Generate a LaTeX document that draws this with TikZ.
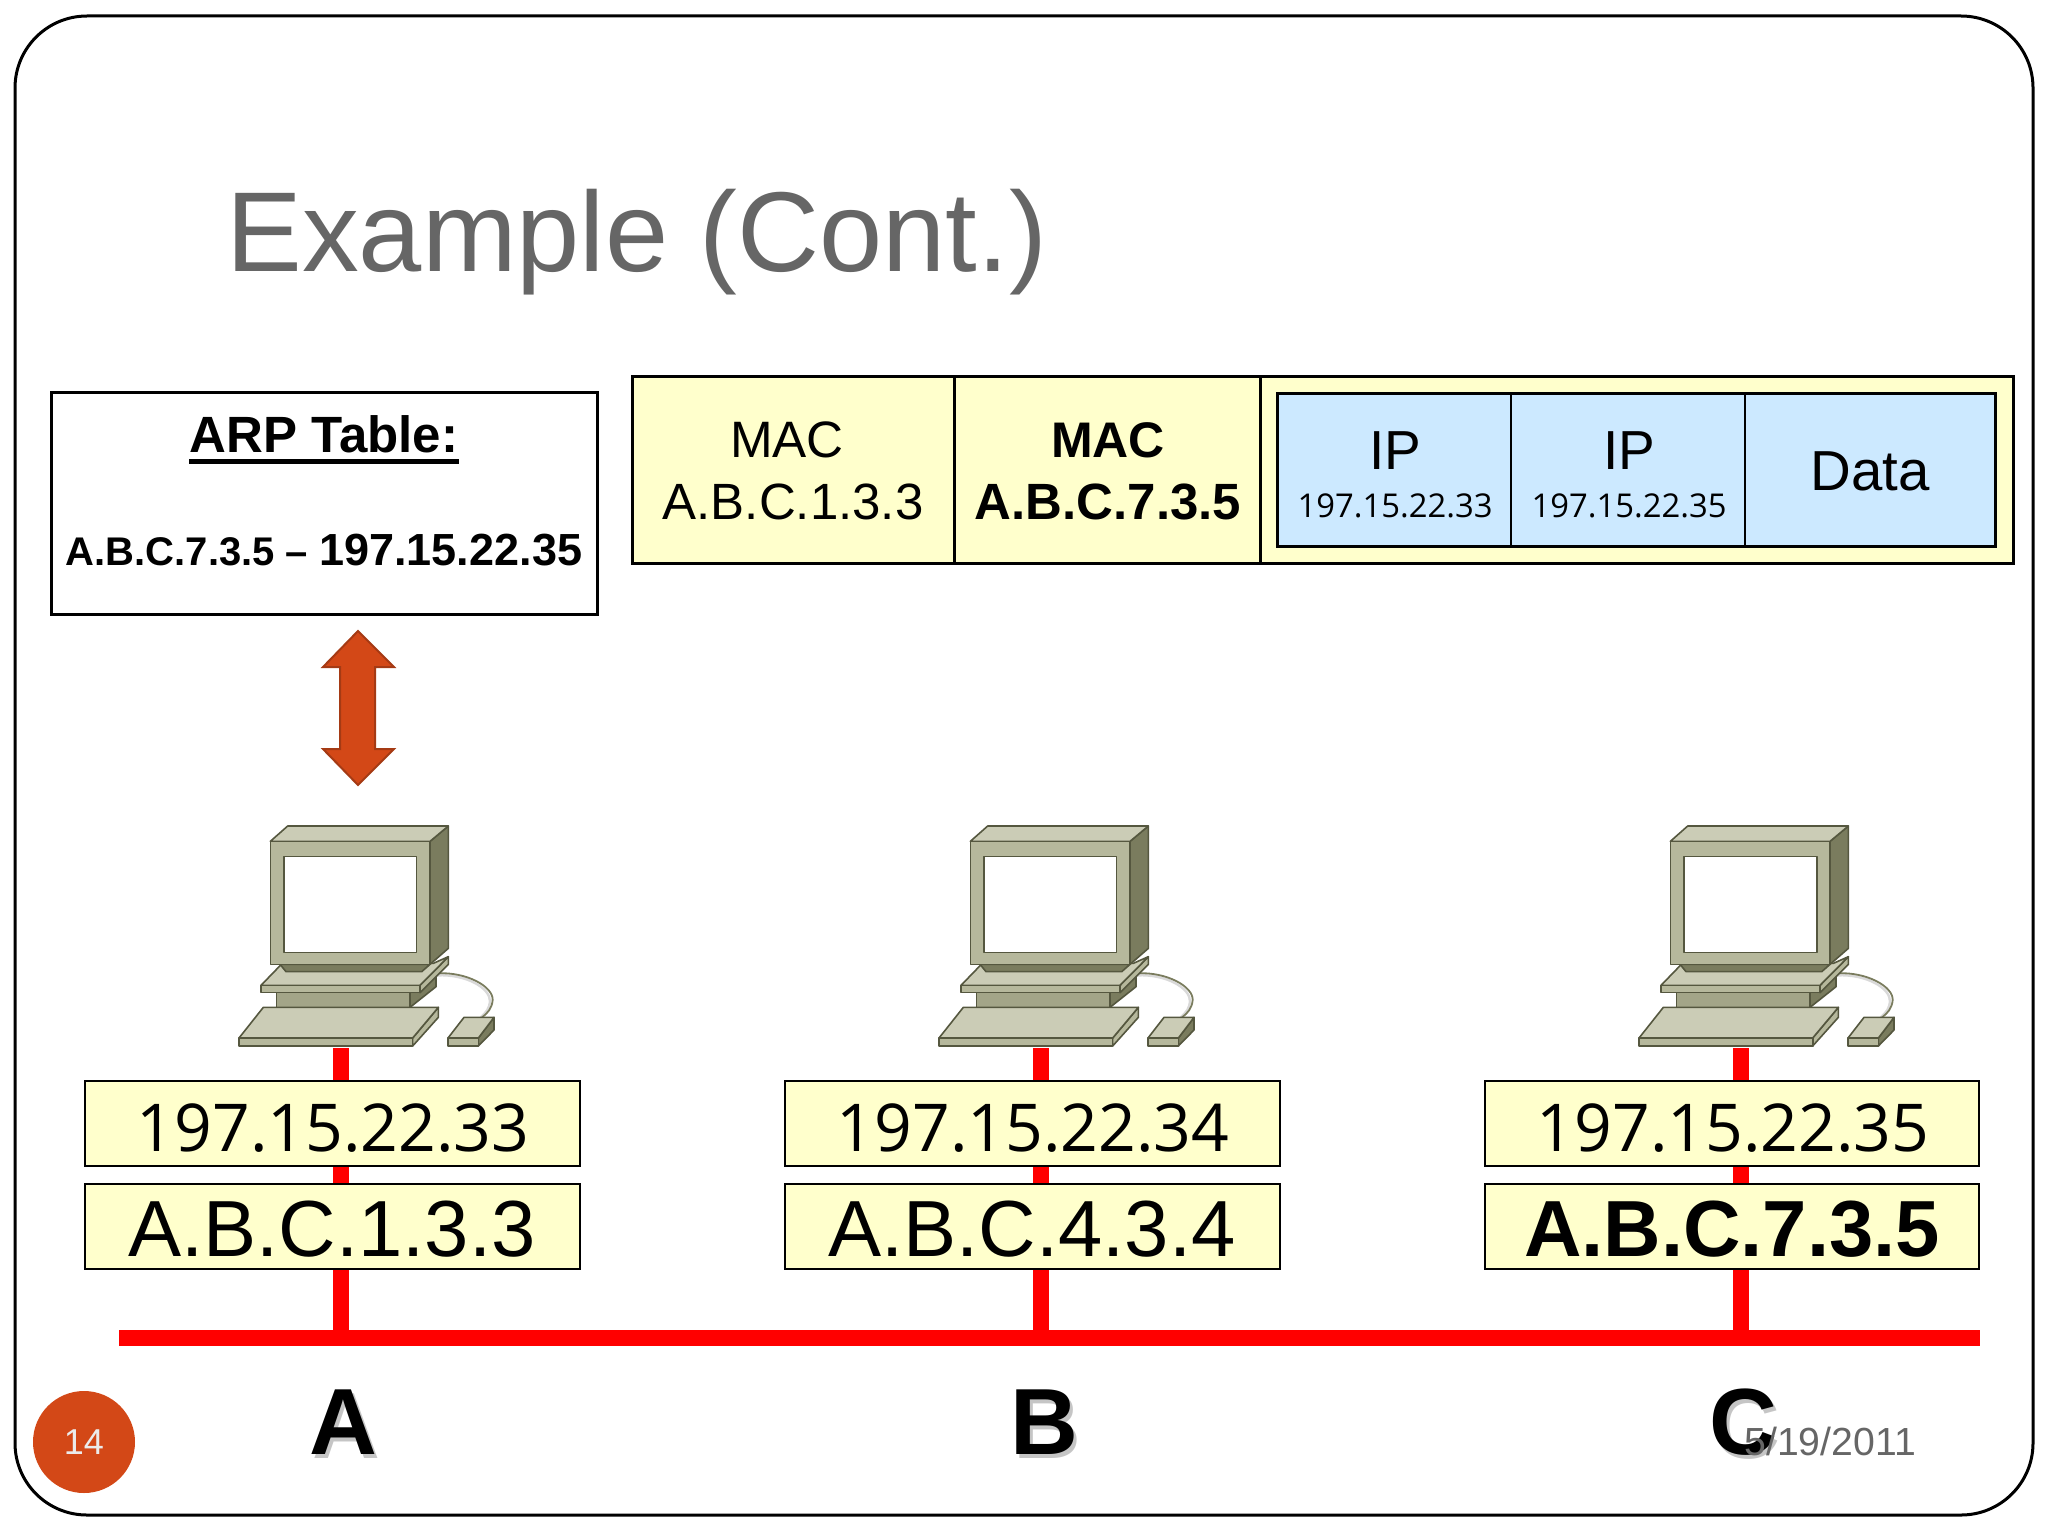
\documentclass[tikz,border=0pt]{standalone}
\usepackage{fontspec}
\setmainfont{Liberation Sans}
\newfontfamily\tah{Open Sans}
\definecolor{boxy}{HTML}{FFFFCC}
\definecolor{boxb}{HTML}{CCE9FF}
\definecolor{ttl}{HTML}{666666}
\definecolor{orng}{HTML}{D34817}
\definecolor{orngd}{HTML}{A53A14}
\definecolor{pcfront}{HTML}{B6B89C}
\definecolor{pctop}{HTML}{CBCCB6}
\definecolor{pcside}{HTML}{7A7C5E}
\definecolor{pcmid}{HTML}{A3A588}
\definecolor{pcedge}{HTML}{55573F}
\tikzset{
  cell/.style={draw=black,line width=1.5pt},
  pcpart/.style={draw=pcedge,line width=0.8pt,line join=round},
  wire/.style={draw=red,line width=8.2pt},
  txt/.style={anchor=base,inner sep=0pt,text=black},
  addr/.style={draw=black,line width=1.2pt,fill=boxy},
}
\newcommand{\fsz}[1]{\fontsize{#1}{#1}\selectfont}
\newcommand{\drawpc}[1]{%
\begin{scope}[shift={(200+#1,800)},x=0.16667pt,y=-0.16667pt]
  % cable
  \draw[white!85!black,line width=1.2pt] (712,526) .. controls (800,522) and (872,565) .. (870,605) .. controls (868,625) and (858,638) .. (842,652);
  \draw[draw=pcside,line width=0.9pt] (712,520) .. controls (800,515) and (880,560) .. (878,600) .. controls (876,625) and (862,640) .. (846,652);
  % block under platter
  \fill[pcpart,fill=pcside] (630,578) -- (708,530) -- (708,560) -- (630,622) -- cycle;
  \fill[pcpart,fill=pcmid] (229,578) rectangle (630,622);
  % platter
  \fill[pcpart,fill=pcfront] (660,556) -- (745,470) -- (745,493) -- (660,578) -- cycle;
  \fill[pcpart,fill=pctop] (183,556) -- (245,492) -- (700,490) -- (745,470) -- (660,556) -- cycle;
  \fill[pcpart,fill=pcfront] (183,556) rectangle (660,578);
  % neck
  \fill[pcpart,fill=pcside] (240,493) -- (258,515) -- (665,515) -- (690,493) -- cycle;
  % monitor
  \fill[pcpart,fill=pcside] (690,124) -- (745,78) -- (745,445) -- (690,493) -- cycle;
  \fill[pcpart,fill=pctop] (211,124) -- (263,78) -- (745,78) -- (690,124) -- cycle;
  \fill[pcpart,fill=pcfront] (211,124) rectangle (690,493);
  \fill[pcpart,fill=white] (252,170) rectangle (650,457);
  % keyboard
  \fill[pcpart,fill=pcfront] (638,714) -- (715,622) -- (715,652) -- (638,738) -- cycle;
  \fill[pcpart,fill=pctop] (117,714) -- (190,622) -- (715,622) -- (638,714) -- cycle;
  \fill[pcpart,fill=pcfront] (117,714) rectangle (638,738);
  % mouse
  \fill[pcpart,fill=pcside] (835,714) -- (882,652) -- (882,690) -- (835,738) -- cycle;
  \fill[pcpart,fill=pctop] (744,714) -- (792,652) -- (882,652) -- (835,714) -- cycle;
  \fill[pcpart,fill=pcfront] (744,714) rectangle (835,738);
\end{scope}}
\begin{document}
\begin{tikzpicture}[x=0.5pt,y=-0.5pt]
\useasboundingbox (0,0) rectangle (2048,1536);
% slide frame
\draw[line width=1.5pt,rounded corners=36pt] (15,16) rectangle (2033,1515);
% title
\node[txt,anchor=base west,text=ttl] (title) at (226,271) {\fsz{56.8}Example (Cont.)};
% ARP table
\draw[cell,fill=white] (51,392) rectangle (597,614);
\node[txt] (arpT) at (324,452) {\fsz{25.5}\bfseries ARP Table:};
\draw[line width=2.5pt] ([yshift=-4.5pt]arpT.base west) -- ([yshift=-4.5pt]arpT.base east);
\node[txt] (arpR) at (324,565) {\bfseries\fsz{20}A.B.C.7.3.5 – \fsz{22.5}197.15.22.35};
% frame header
\draw[cell,fill=boxy] (632,376) rectangle (2013,563);
\draw[cell] (954,376) -- (954,563);
\draw[cell] (1260,376) -- (1260,563);
\node[txt] (mac1) at (787,457) {\fsz{25.6}MAC};
\node[txt] (mac1v) at (793,519) {\fsz{25.5}A.B.C.1.3.3};
\node[txt] (mac2) at (1108,457) {\fsz{25}\bfseries MAC};
\node[txt] (mac2v) at (1108,519) {\fsz{25.5}\bfseries A.B.C.7.3.5};
\draw[cell,fill=boxb] (1277,393) rectangle (1995,546);
\draw[line width=1.2pt] (1511,393) -- (1511,546);
\draw[line width=1.2pt] (1745,393) -- (1745,546);
\node[txt] (ip1) at (1395,469) {\fsz{27.5}IP};
\node[txt] (ip1v) at (1395,517) {\tah\fsz{16.4}197.15.22.33};
\node[txt] (ip2) at (1629,469) {\fsz{27.5}IP};
\node[txt] (ip2v) at (1629,517) {\tah\fsz{16.4}197.15.22.35};
\node[txt] (data) at (1870,490) {\fsz{28.2}Data};
% double arrow
\draw[draw=orngd,line width=1pt,fill=orng,line join=miter] (358,631) -- (394,667) -- (375,667) -- (375,749) -- (394,749) -- (358,785) -- (323,749) -- (340,749) -- (340,667) -- (323,667) -- cycle;
% computers
\drawpc{0}
\drawpc{700}
\drawpc{1400}
% bus and stubs
\coordinate (busL) at (119,1338);
\coordinate (busR) at (1980,1338);
\coordinate (pcA) at (341,1048);
\coordinate (pcB) at (1041,1048);
\coordinate (pcC) at (1741,1048);
\draw[wire] (pcA) -- (pcA |- busL);
\draw[wire] (pcB) -- (pcB |- busL);
\draw[wire] (pcC) -- (pcC |- busL);
\draw[wire] (busL) -- (busR);
% address boxes
\draw[addr] (85,1081) rectangle (580,1166);
\draw[addr] (85,1184) rectangle (580,1269);
\draw[addr] (785,1081) rectangle (1280,1166);
\draw[addr] (785,1184) rectangle (1280,1269);
\draw[addr] (1485,1081) rectangle (1979,1166);
\draw[addr] (1485,1184) rectangle (1979,1269);
\node[txt] (ipa) at (333,1151) {\tah\fsz{33}197.15.22.33};
\node[txt] (ipb) at (1033,1151) {\tah\fsz{33}197.15.22.34};
\node[txt] (ipc) at (1733,1151) {\tah\fsz{33}197.15.22.35};
\node[txt] (maca) at (332,1256) {\fsz{39.8}A.B.C.1.3.3};
\node[txt] (macb) at (1032,1256) {\fsz{39.8}A.B.C.4.3.4};
\node[txt] (macc) at (1732,1256) {\fsz{39.8}\bfseries A.B.C.7.3.5};
% host labels
\foreach \nm/\px/\lab in {la/343/A,lb/1044/B,lc/1743/C}{
  \node[txt,text=black!45,opacity=0.5] at (\px+3,1458) {\fsz{47}\bfseries\lab};
  \node[txt] (\nm) at (\px,1454) {\fsz{47}\bfseries\lab};
}
% page number and date
\node[circle,fill=orng,minimum size=51pt,inner sep=0pt,text=white!92!black] (num) at (84,1442) {\fsz{18}14};
\node[txt,anchor=base west,text=ttl] (date) at (1744,1455) {\fsz{19.6}5/19/2011};
\end{tikzpicture}
\end{document}
